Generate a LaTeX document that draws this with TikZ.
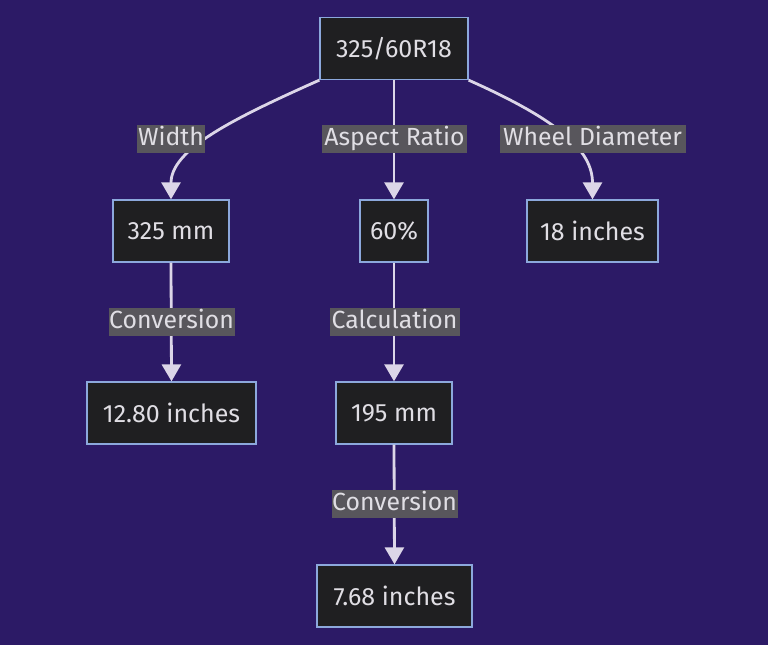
\documentclass[tikz,border=0pt]{standalone}
\usepackage{fontspec}
\setmainfont{Fira Sans}
\usetikzlibrary{arrows.meta}
\definecolor{bgc}{RGB}{44,26,102}
\definecolor{nodefill}{RGB}{31,31,33}
\definecolor{nodeborder}{RGB}{140,168,220}
\definecolor{txt}{RGB}{224,222,228}
\definecolor{edgec}{RGB}{220,214,232}
\definecolor{lblfill}{RGB}{88,86,92}
\begin{document}
\begin{tikzpicture}[x=1pt,y=-1pt,
  box/.style={draw=nodeborder,line width=1.3pt,fill=nodefill,text=txt,
    minimum height=62pt,inner xsep=0pt,font=\fontsize{25}{29}\selectfont},
  lbl/.style={fill=lblfill,text=txt,inner xsep=0pt,inner ysep=0pt,
    minimum height=28pt,text height=17pt,text depth=5pt,font=\fontsize{24.8}{29}\selectfont},
  edge/.style={draw=edgec,line width=2.8pt,-{Triangle[length=17pt,width=19pt]}}]
\fill[bgc] (0,0) rectangle (768,645);
\useasboundingbox (0,0) rectangle (768,645);
\node[box,minimum width=148pt] (top) at (394,48.5) {325/60R18};
\node[box,minimum width=116pt] (w) at (171,231) {325 mm};
\node[box,minimum width=68pt] (a) at (394,231) {60\%};
\node[box,minimum width=131pt] (d) at (592.5,231) {18 inches};
\node[box,minimum width=169pt] (wi) at (171.5,413) {12.80 inches};
\node[box,minimum width=116pt] (h) at (394,413) {195 mm};
\node[box,minimum width=155pt] (hi) at (394.5,596) {7.68 inches};
\draw[edge] (top.south west) .. controls (230,120) and (171,150) .. (w.north);
\draw[edge] (top.south) -- (a.north);
\draw[edge] (top.south east) .. controls (558,120) and (592.5,150) .. (d.north);
\draw[edge] (w.south) -- (wi.north);
\draw[edge] (a.south) -- (h.north);
\draw[edge] (h.south) -- (hi.north);
\node[lbl,minimum width=68pt] (lw) at (171,139) {Width};
\node[lbl,minimum width=145pt] (la) at (394.5,139) {Aspect Ratio};
\node[lbl,minimum width=186pt] (ld) at (592.5,139) {Wheel Diameter};
\node[lbl,minimum width=126pt] (lc1) at (171.5,322) {Conversion};
\node[lbl,minimum width=130pt] (lc2) at (394.5,322) {Calculation};
\node[lbl,minimum width=126pt] (lc3) at (394.5,504) {Conversion};
\end{tikzpicture}
\end{document}
